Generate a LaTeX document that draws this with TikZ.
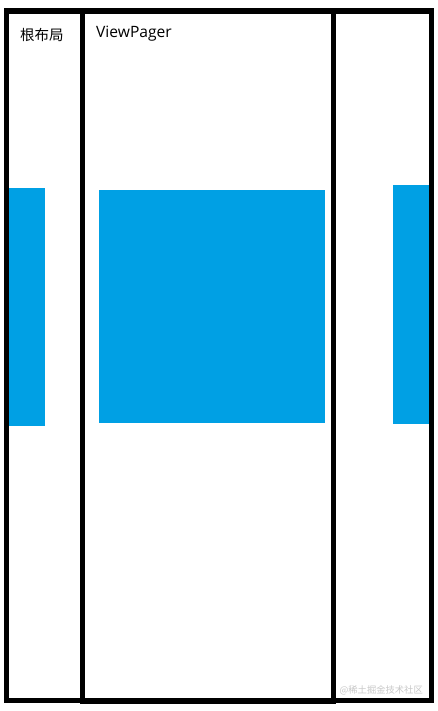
\documentclass[tikz,border=0pt]{standalone}
\usepackage{fontspec}
\setmainfont{Open Sans}
\newfontfamily\cjk{Noto Sans CJK SC}
\definecolor{panelblue}{RGB}{0,160,228}
\definecolor{wmgrey}{RGB}{200,200,200}
\begin{document}
\begin{tikzpicture}[x=1pt,y=-1pt,
  frame/.style={draw=black,line width=5.5pt},
  card/.style={fill=panelblue,draw=none},
  lbl/.style={inner sep=0pt,anchor=west,font=\fontsize{14.5}{16}\selectfont}]
\useasboundingbox[fill=white] (0,0) rectangle (437,711);
% blue cards
\fill[card] (9,188) rectangle (45,426);
\fill[card] (99,190) rectangle (325,423);
\fill[card] (393,185) rectangle (429,424);
% frames
\draw[frame] (6.5,11) rectangle (431.5,700.5);
\draw[frame] (82.5,11) rectangle (333.5,701.5);
% labels
\node[lbl] (root) at (20,35) {\cjk 根布局};
\node[lbl,anchor=base west,font=\fontsize{15.6}{17}\selectfont] (vp) at (96,38) {ViewPager};
\node[inner sep=0pt,anchor=east,text=wmgrey,font=\cjk\fontsize{9.3}{10}\selectfont] (wm) at (423,690) {@稀土掘金技术社区};
\end{tikzpicture}
\end{document}
